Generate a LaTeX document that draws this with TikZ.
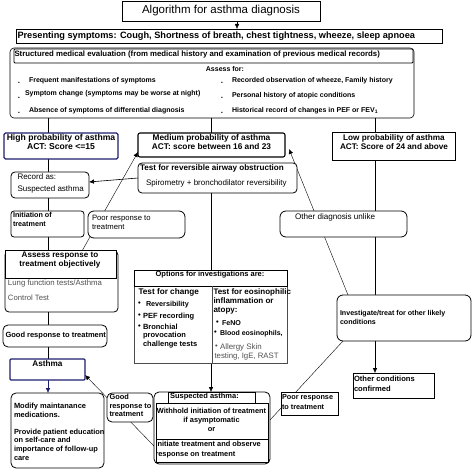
\documentclass[tikz,border=0pt]{standalone}
\usepackage{fontspec}
\setmainfont{Liberation Sans}
\usetikzlibrary{arrows.meta,backgrounds}
\definecolor{navy}{RGB}{30,30,110}
\definecolor{tgray}{RGB}{80,80,80}
\newcommand\mkbox[6]{\node[bx,#6,minimum width={(#4-#2)*1pt},minimum height={(#5-#3)*1pt}] (#1) at (#2,#3) {};}
\begin{document}
\begin{tikzpicture}[x=1pt,y=-1pt,
  bx/.style={draw, line width=0.8pt, fill=white, inner sep=0pt, outer sep=0pt, anchor=north west},
  tb/.style 2 args={inner sep=0pt, outer sep=0pt, anchor=west, align=left, font=\bfseries\fontsize{#1}{#2}\selectfont},
  tr/.style 2 args={inner sep=0pt, outer sep=0pt, anchor=west, align=left, font=\fontsize{#1}{#2}\selectfont},
  arr/.style={-{Latex[length=5pt,width=4.5pt]}},
  conn/.style={line width=1.1pt}]
\useasboundingbox (0,0) rectangle (474,470);
% ---------- boxes ----------
\mkbox{title}{122}{1}{320}{21}{}
\mkbox{pres}{16}{29}{442}{43}{}
\mkbox{eval}{10}{48}{414}{118}{rounded corners=4pt, line width=0.6pt}
\mkbox{evalh}{14}{49}{413}{63}{rounded corners=1pt}
\mkbox{high}{4}{133}{118}{159}{draw=navy, line width=1.4pt, rounded corners=1.5pt}
\mkbox{med}{138}{133}{285}{157}{rounded corners=2pt, line width=1.1pt}
\mkbox{low}{332}{133}{455}{161}{line width=1pt}
\mkbox{test}{138}{163}{297}{193}{rounded corners=4pt}
\mkbox{record}{11}{172}{89}{198}{rounded corners=4pt}
\mkbox{init}{11}{211}{84}{237}{rounded corners=3pt}
\mkbox{poorA}{88}{211}{185}{238}{rounded corners=6pt}
\mkbox{other}{280}{211}{407}{237}{rounded corners=6pt}
\mkbox{assess}{5}{251}{118}{312}{rounded corners=4pt}
\mkbox{assessh}{5}{251}{116}{279}{line width=1pt}
\mkbox{opts}{134}{270}{287}{363}{line width=0.5pt, draw=black!70}
\mkbox{optsh}{134}{270}{287}{286}{line width=0.9pt}
\mkbox{invest}{337}{295}{471}{341}{rounded corners=6pt}
\mkbox{goodA}{3}{325}{107}{347}{rounded corners=5pt}
\mkbox{asthma}{10}{359}{85}{380}{draw=navy, line width=1.4pt, rounded corners=1pt}
\mkbox{confirmed}{353}{373}{434}{398}{}
\mkbox{modify}{11}{393}{104}{468}{rounded corners=5pt}
\mkbox{goodB}{107}{393}{153}{422}{rounded corners=5pt}
\mkbox{susp}{154}{392}{270}{464}{rounded corners=5pt}
\mkbox{susph}{168}{392}{255}{403}{}
\mkbox{withhold}{156}{403}{268}{439}{}
\mkbox{initiate}{156}{439}{268}{462}{}
\mkbox{poorB}{281}{392}{338}{415}{}
\coordinate (dv) at (212,0);
\draw[line width=0.5pt, black!70] (optsh.south -| dv) -- (opts.south -| dv);
% ---------- connectors ----------
\coordinate (xa) at (48,0);
\coordinate (xb) at (211,0);
\coordinate (xc) at (375,0);
\begin{scope}[on background layer, conn]
\draw[arr] ([xshift=16pt]title.south) -- ([xshift=16pt]title.south |- pres.north);
\draw (eval.south -| xa) -- (high.north -| xa);
\draw (high.south -| xa) -- (record.north -| xa);
\draw (record.south -| xa) -- (init.north -| xa);
\draw (init.south -| xa) -- (assess.north -| xa);
\draw (assess.south -| xa) -- (goodA.north -| xa);
\draw (goodA.south -| xa) -- (asthma.north -| xa);
\draw[arr, navy] (asthma.south -| xa) -- (modify.north -| xa);
\draw (eval.south -| xb) -- (med.north -| xb);
\draw (test.south -| xb) -- (opts.north -| xb);
\draw[arr] (opts.south -| xb) -- (susp.north -| xb);
\draw (eval.south -| xc) -- (low.north -| xc);
\draw (low.south -| xc) -- (invest.north -| xc);
\draw[arr] (invest.south -| xc) -- (confirmed.north -| xc);
\draw[arr, line width=0.6pt] (test.west) -- ([yshift=3pt]record.east);
\draw[arr] ([xshift=20.5pt]assess.north) -- ([yshift=-7pt]med.west);
\draw[arr] ([xshift=11pt]invest.north west) -- ([xshift=4pt,yshift=-4pt]med.east);
\draw[arr] ([yshift=-18pt]susp.west) -- ([yshift=5pt]asthma.south east);
\draw ([xshift=6pt]invest.south west) -- ([yshift=8pt]susp.east);
\end{scope}
% ---------- texts ----------
\node[tr={11.5}{12}, anchor=center] (tTitle) at (title.center) {Algorithm for asthma diagnosis};
\node[tb={9.2}{10}] (tPres) at (17.5,36) {Presenting symptoms: Cough, Shortness of breath, chest tightness, wheeze, sleep apnoea};
\node[tb={7.8}{8}] (tEval) at (14.5,54.5) {Structured medical evaluation (from medical history and examination of previous medical records)};
\node[tb={7}{8}, anchor=center] (tAssessFor) at (225,69) {Assess for:};
\node[tb={8}{8}, anchor=center] (d1) at (19,83) {.};
\node[tb={8}{8}, anchor=center] (d2) at (19,98) {.};
\node[tb={8}{8}, anchor=center] (d3) at (19,113) {.};
\node[tb={8}{8}, anchor=center] (d4) at (222,83) {.};
\node[tb={8}{8}, anchor=center] (d5) at (222,98) {.};
\node[tb={8}{8}, anchor=center] (d6) at (222,113) {.};
\node[tb={7}{8}] (a1) at (29,81) {Frequent manifestations of symptoms};
\node[tb={7}{8}] (a2) at (25,94) {Symptom change (symptoms may be worse at night)};
\node[tb={7}{8}] (a3) at (29,111) {Absence of symptoms of differential diagnosis};
\node[tb={7}{8}] (a4) at (232,81) {Recorded observation of wheeze, Family history};
\node[tb={7}{8}] (a5) at (232,96) {Personal history of atopic conditions};
\node[tb={7}{8}] (a6) at (232,111) {Historical record of changes in PEF or FEV\textsubscript{1}};
\node[tb={8.6}{8.3}, anchor=center, align=center] (tHigh) at (61,142) {High probability of asthma\\ACT: Score <=15};
\node[tb={8.3}{8.3}, anchor=center, align=center] (tMed) at (211.5,142) {Medium probability of asthma\\ACT: score between 16 and 23};
\node[tb={8.2}{8.3}, anchor=center, align=center] (tLow) at (394,142) {Low probability of asthma\\ACT: Score of 24 and above};
\node[tb={8.1}{9}] (tTest1) at (140,168.5) {Test for reversible airway obstruction};
\node[tr={8}{9}] (tTest2) at (146,183) {Spirometry + bronchodilator reversibility};
\node[tr={8}{12}] (tRec) at (17.5,183) {Record as:\\Suspected asthma};
\node[tb={7.2}{9}] (tInit) at (13,219.5) {Initiation of\\treatment};
\node[tr={7.7}{9}] (tPoorA) at (92,222.5) {Poor response to\\treatment};
\node[tr={8.1}{9}] (tOther) at (295,217) {Other diagnosis unlike};
\node[tb={8.1}{9}, anchor=center, align=center] (tAssess) at (60,260) {Assess response to\\treatment objectively};
\node[tr={7.8}{9}, tgray] (tLung) at (8,283) {Lung function tests/Asthma};
\node[tr={7.7}{9}, tgray] (tCtrl) at (8,298) {Control Test};
\node[tb={7.5}{9}] (tGoodA) at (5.5,335.5) {Good response to treatment};
\node[tb={8.2}{9}, anchor=center] (tAsthma) at (47.5,363.5) {Asthma};
\node[tb={7.5}{8.5}] (tMod1) at (14,410.5) {Modify maintanance\\medications.};
\node[tb={7.4}{8.7}] (tMod2) at (14,444.5) {Provide patient education\\on self-care and\\importance of follow-up\\care};
\node[tb={7.4}{8.2}] (tGoodB) at (109.5,405.5) {Good\\response to\\treatment};
\node[tb={7.5}{9}] (tSusp) at (170,397) {Suspected asthma:};
\node[tb={7.4}{9}, anchor=center, align=center] (tWith) at (211.5,419.5) {Withhold initiation of treatment\\if asymptomatic\\or};
\node[tb={7.4}{10}] (tIniT) at (155.5,449.5) {Initiate treatment and observe\\response on treatment};
\node[tb={7.3}{10}] (tPoorB) at (282,402.5) {Poor response\\to treatment};
\node[tb={7.6}{10}] (tConf) at (354,383.5) {Other conditions\\confirmed};
\node[tb={7.1}{9}] (tInv) at (340,317) {Investigate/treat for other likely\\conditions};
\node[tb={7.5}{9}, anchor=center] (tOpt) at (210,275) {Options for investigations are:};
\node[tb={8.2}{9}] (tChg) at (138.5,292.5) {Test for change};
\node[tb={7.5}{8}, anchor=center] (b1) at (139.5,304) {•};
\node[tb={7.2}{8}] (tRev) at (146,304.5) {Reversibility};
\node[tb={7.5}{8}, anchor=center] (b2) at (139.5,316) {•};
\node[tb={7.5}{8}] (tPEF) at (143,316.5) {PEF recording};
\node[tb={7.5}{8}, anchor=center] (b3) at (139.5,327) {•};
\node[tb={7.5}{8.6}] (tBron) at (143,336) {Bronchial\\provocation\\challenge tests};
\node[tb={8}{9}] (tEos) at (213.5,301.5) {Test for eosinophilic\\inflammation or\\atopy:};
\node[tb={7.5}{8}, anchor=center] (b4) at (217.5,323) {•};
\node[tb={7.1}{8}] (tFe) at (222,323.5) {FeNO};
\node[tb={7.5}{8}, anchor=center] (b5) at (215.5,333) {•};
\node[tb={7}{8}] (tBlood) at (220,333.5) {Blood eosinophils,};
\node[tr={7.5}{8}, tgray, anchor=center] (b6) at (216.5,347) {•};
\node[tr={7.9}{9}, tgray] (tAll) at (220,347) {Allergy Skin};
\node[tr={7.8}{9}, tgray] (tIgE) at (214.5,356) {testing, IgE, RAST};
\end{tikzpicture}
\end{document}
